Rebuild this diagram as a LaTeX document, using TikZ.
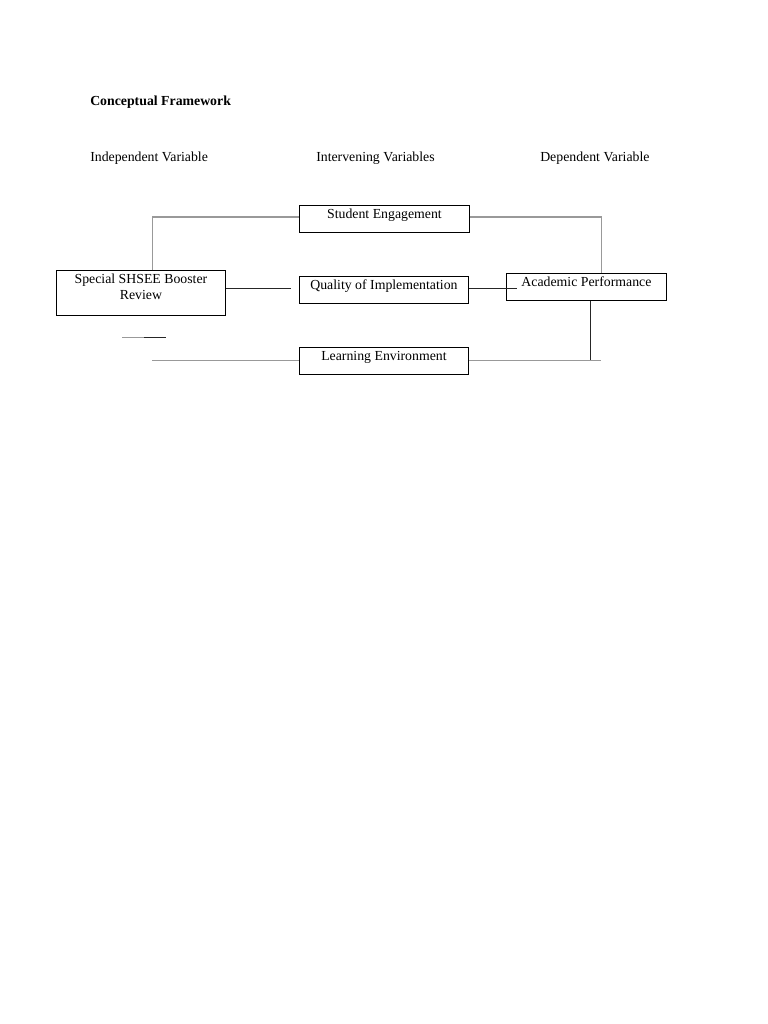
\documentclass[tikz,border=0pt]{standalone}
\usepackage{fontspec}
\setmainfont{Liberation Serif}
\usetikzlibrary{calc}

\tikzset{
  box/.style={draw, line width=0.7pt, inner xsep=0pt, inner ysep=0pt, anchor=north west,
              font=\fontsize{11}{12.75}\selectfont, text height=10.4pt, text depth=11.1pt, align=center},
  link/.style={draw=gray!80, line width=0.8pt},
  dark/.style={draw=black!85, line width=0.8pt},
  label/.style={anchor=base west, inner sep=0pt, font=\fontsize{11}{13}\selectfont}
}

\begin{document}
\begin{tikzpicture}[x=0.796875pt,y=-0.796875pt]
	\useasboundingbox (0,0) rectangle (768,1024);
	\fill[white] (0,0) rectangle (768,1024);

	%% headings
	\node[label, font=\fontsize{11}{13}\selectfont\bfseries] (title) at (90,106) {Conceptual Framework};
	\node[label] (indep) at (90,161) {Independent Variable};
	\node[label] (interv) at (316,161) {Intervening Variables};
	\node[label] (dep) at (540,161) {Dependent Variable};

	%% boxes
	\begin{scope}[every node/.style={box}]
		\node[minimum width=134.7pt, text height=23.1pt, text depth=12.75pt] (special) at (56,270) {Special SHSEE Booster\\Review};
		\node[minimum width=135.5pt] (engage) at (299,205) {Student Engagement};
		\node[minimum width=134.7pt] (quality) at (299,276) {Quality of Implementation};
		\node[minimum width=134.7pt] (learn) at (299,347) {Learning Environment};
		\node[minimum width=127.5pt] (academic) at (506,273) {Academic Performance};
	\end{scope}

	\coordinate (tl) at (152,217);
	\coordinate (tr) at (601,217);
	\coordinate (bl) at (152,360);
	\coordinate (br) at (601,360);
	\coordinate (apdown) at (590,360);
	\coordinate (qleft) at (291,288);
	\coordinate (qright) at (517,288);
	\coordinate (stubA) at (122,337);
	\coordinate (stubB) at (144,337);
	\coordinate (stubC) at (166,337);

	%% connectors
	\draw[link] (special.north -| tl) -- (tl) -- (engage.west |- tl);
	\draw[link] (engage.east |- tr) -- (tr) -- (academic.north -| tr);
	\draw[link] (bl) -- (learn.west |- bl);
	\draw[link] (learn.east |- br) -- (br);
	\draw[dark] (special.east |- qleft) -- (qleft);
	\draw[dark] (quality.east |- qright) -- (qright);
	\draw[dark] (academic.south -| apdown) -- (apdown);
	\draw[link] (stubA) -- (stubB);
	\draw[dark] (stubB) -- (stubC);

\end{tikzpicture}
\end{document}
